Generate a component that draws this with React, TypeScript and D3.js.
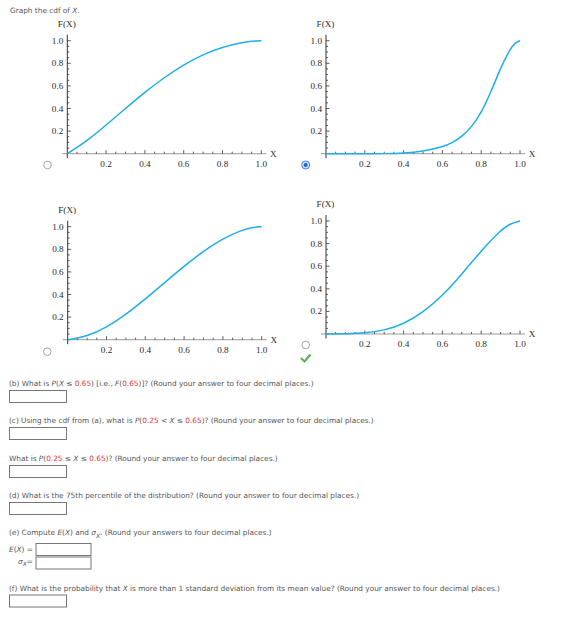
import React from "react";
import * as d3 from "d3";

// ---- data ----
const xGrid = [0, 0.1, 0.2, 0.3, 0.4, 0.5, 0.6, 0.7, 0.8, 0.9, 0.95, 1.0];
const cdfA = [0, 0.11, 0.254, 0.4, 0.545, 0.675, 0.788, 0.878, 0.944, 0.984, 0.996, 1.0];
const xGridB = [0, 0.1, 0.2, 0.3, 0.4, 0.5, 0.6, 0.65, 0.7, 0.75, 0.8, 0.85, 0.9, 0.95, 0.975, 1.0];
const cdfB = [0, 0, 0, 0, 0.004, 0.02, 0.06, 0.095, 0.15, 0.235, 0.36, 0.545, 0.76, 0.93, 0.982, 1.0];
const cdfC = [0, 0.029, 0.108, 0.222, 0.36, 0.505, 0.65, 0.785, 0.896, 0.972, 0.993, 1.0];
const cdfD = [0, 0.001, 0.007, 0.031, 0.087, 0.19, 0.337, 0.528, 0.737, 0.919, 0.977, 1.0];
const tickLabels = ["0.2", "0.4", "0.6", "0.8", "1.0"];
const majorTicks = [0.2, 0.4, 0.6, 0.8, 1.0];

const TEXT = "#555";
const RED = "#e8383d";
const SANS = "'DejaVu Sans', Verdana, sans-serif";
const SERIF = "'Liberation Serif', 'Times New Roman', serif";
const CURVE = "#1eaee8";

type ChartProps = { ox: number; oy: number; xs: number[]; ys: number[] };

function Chart({ ox, oy, xs, ys }: ChartProps) {
  const w = 194;
  const h = 113;
  const x = d3.scaleLinear().domain([0, 1]).range([ox, ox + w]);
  const y = d3.scaleLinear().domain([0, 1]).range([oy, oy - h]);
  const minor = x.ticks(20).filter((t) => t > 0);
  const isMajor = (t: number) => majorTicks.some((m) => Math.abs(m - t) < 1e-6);
  const line = d3
    .line<number>()
    .x((_, i) => x(xs[i]))
    .y((d) => y(d))
    .curve(d3.curveBasis);
  return (
    <g>
      <line x1={x(0) - 5} x2={x(1) + 5} y1={y(0)} y2={y(0)} stroke="#9a9a9a" strokeWidth={1} />
      <line x1={x(0)} x2={x(0)} y1={y(0) + 4.5} y2={y(1) - 6} stroke="#333" strokeWidth={1} />
      {minor.map((t) => (
        <line
          key={"xt" + t}
          x1={x(t)}
          x2={x(t)}
          y1={y(0)}
          y2={y(0) - (isMajor(t) ? 3.5 : 2)}
          stroke="#333"
          strokeWidth={0.8}
        />
      ))}
      {minor.map((t) => (
        <line
          key={"yt" + t}
          x1={x(0)}
          x2={x(0) + (isMajor(t) ? 3.5 : 2)}
          y1={y(t)}
          y2={y(t)}
          stroke="#333"
          strokeWidth={0.8}
        />
      ))}
      {majorTicks.map((t, i) => (
        <text
          key={"xl" + t}
          x={x(t)}
          y={y(0) + 13}
          textAnchor="middle"
          fontFamily={SERIF}
          fontSize={9.2}
          fill="#2a2a2a"
        >
          {tickLabels[i]}
        </text>
      ))}
      {majorTicks.map((t, i) => (
        <text
          key={"yl" + t}
          x={x(0) - 4}
          y={y(t) + 3}
          textAnchor="end"
          fontFamily={SERIF}
          fontSize={9.2}
          fill="#2a2a2a"
        >
          {tickLabels[i]}
        </text>
      ))}
      <text x={x(0) - 0.5} y={y(1) - 14} textAnchor="middle" fontFamily={SERIF} fontSize={9.2} fill="#2a2a2a">
        F(X)
      </text>
      <text x={x(1) + 12} y={y(0) + 3} textAnchor="middle" fontFamily={SERIF} fontSize={9.2} fill="#2a2a2a">
        X
      </text>
      <path d={line(ys) || ""} fill="none" stroke={CURVE} strokeWidth={1.5} strokeLinejoin="round" />
    </g>
  );
}

function Radio({ cx, cy, selected }: { cx: number; cy: number; selected?: boolean }) {
  if (selected) {
    return (
      <g>
        <circle cx={cx} cy={cy} r={4} fill="#cfe2ff" stroke="#3d86e8" strokeWidth={1} />
        <circle cx={cx} cy={cy} r={2} fill="#1c62d6" />
      </g>
    );
  }
  return <circle cx={cx} cy={cy} r={3.8} fill="#fff" stroke="#9a9a9a" strokeWidth={0.9} />;
}

function Box({ x, y, w = 57, h = 12 }: { x: number; y: number; w?: number; h?: number }) {
  return <rect x={x + 0.5} y={y + 0.5} width={w} height={h} fill="#fff" stroke="#777" strokeWidth={1} />;
}

const I = (s: string) => <tspan fontStyle="italic">{s}</tspan>;
const R = (s: string) => <tspan fill={RED}>{s}</tspan>;

export default function App() {
  const fs = 7.35;
  return (
    <svg
      width={587}
      height={617}
      style={{ position: "absolute", left: 0, top: 0, background: "#fff" }}
    >
      <text x={10} y={12.5} fontFamily={SANS} fontSize={fs} fill={TEXT}>
        Graph the cdf of {I("X")}.
      </text>

      <Chart ox={67.3} oy={153.7} xs={xGrid} ys={cdfA} />
      <Chart ox={326} oy={153.7} xs={xGridB} ys={cdfB} />
      <Chart ox={67.7} oy={339.7} xs={xGrid} ys={cdfC} />
      <Chart ox={326} oy={334} xs={xGrid} ys={cdfD} />

      <Radio cx={47.5} cy={165} />
      <Radio cx={305.7} cy={165} selected />
      <Radio cx={47.3} cy={351.7} />
      <Radio cx={305.7} cy={345} />
      <path d="M301.5,358.5 L304.5,361.5 L310,355" fill="none" stroke="#5cae4e" strokeWidth={2} strokeLinecap="round" strokeLinejoin="round" />

      <g fontFamily={SANS} fontSize={fs} fill={TEXT}>
        <text x={9} y={385.5}>
          (b) What is {I("P")}({I("X")} ≤ {R("0.65")}) [i.e., {I("F")}({R("0.65")})]? (Round your answer to four decimal places.)
        </text>
        <text x={9} y={423.2}>
          (c) Using the cdf from (a), what is {I("P")}({R("0.25")} &lt; {I("X")} ≤ {R("0.65")})? (Round your answer to four decimal places.)
        </text>
        <text x={9} y={461}>
          What is {I("P")}({R("0.25")} ≤ {I("X")} ≤ {R("0.65")})? (Round your answer to four decimal places.)
        </text>
        <text x={9} y={498.3}>
          (d) What is the 75th percentile of the distribution? (Round your answer to four decimal places.)
        </text>
        <text x={9} y={535.3}>
          (e) Compute {I("E")}({I("X")}) and {I("σ")}
          <tspan fontStyle="italic" fontSize={6} dy={2.5}>X</tspan>
          <tspan dy={-2.5}>. (Round your answers to four decimal places.)</tspan>
        </text>
        <text x={9} y={551.5}>
          {I("E")}({I("X")}) =
        </text>
        <text x={18} y={563.5}>
          {I("σ")}
          <tspan fontStyle="italic" fontSize={6} dy={2.5}>X</tspan>
          <tspan dy={-2.5}>=</tspan>
        </text>
        <text x={9} y={591}>
          (f) What is the probability that {I("X")} is more than 1 standard deviation from its mean value? (Round your answer to four decimal places.)
        </text>
      </g>

      <Box x={9} y={390} />
      <Box x={9} y={427} />
      <Box x={9} y={465} />
      <Box x={9} y={502} />
      <Box x={35.5} y={543} w={55} />
      <Box x={35.5} y={556.5} w={55} />
      <Box x={9} y={594.5} />
    </svg>
  );
}
